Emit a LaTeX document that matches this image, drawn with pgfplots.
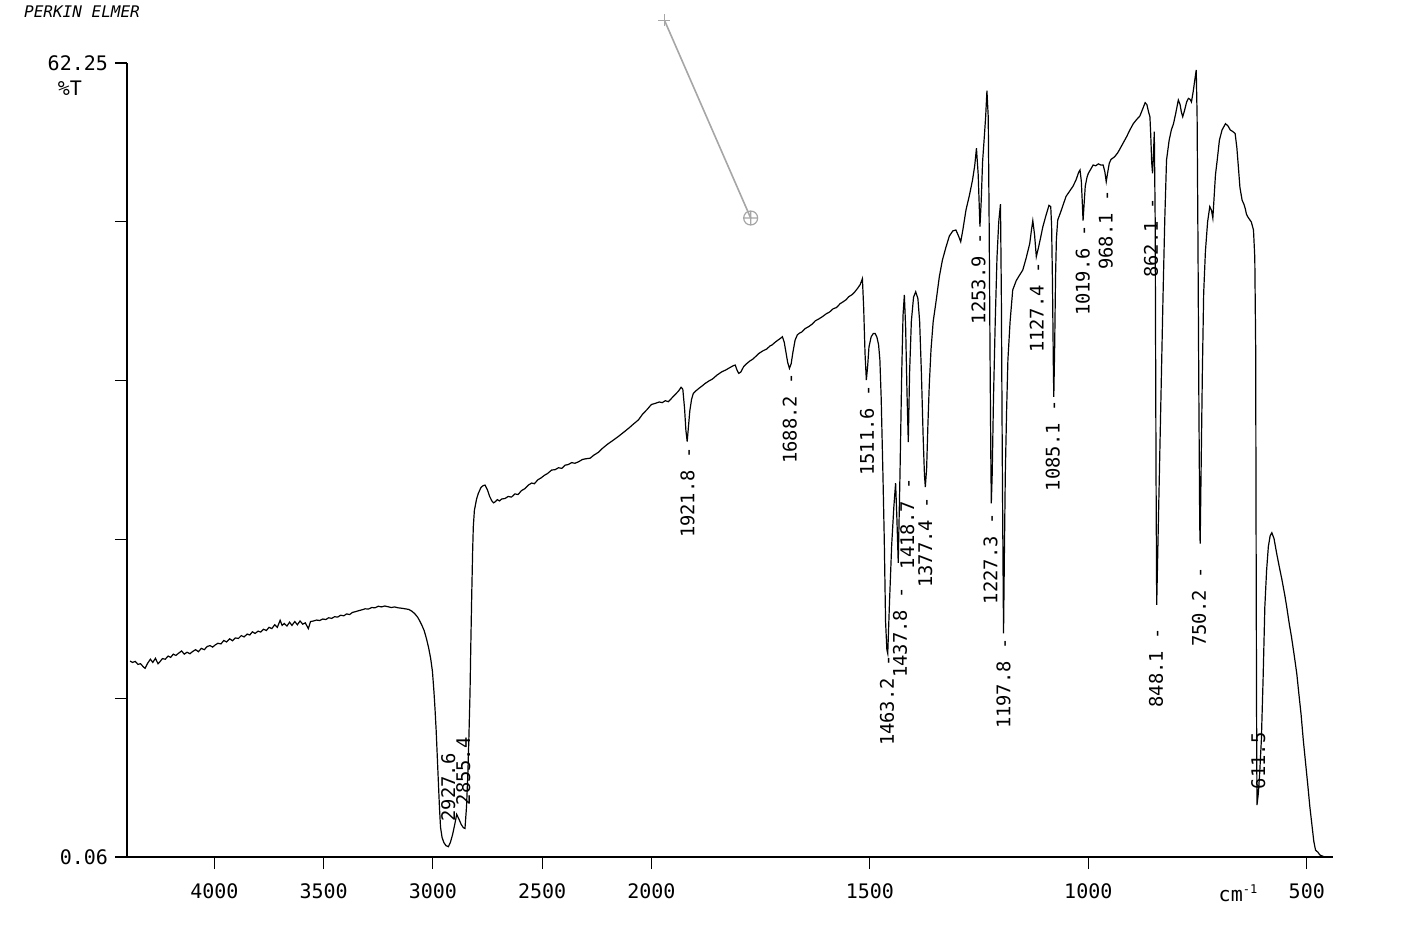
\documentclass[border=0pt]{standalone}
\usepackage{fontspec}
\setmainfont{DejaVu Sans Mono}
\usepackage{pgfplots}
\pgfplotsset{compat=1.18}
\pgfplotstableread{
wn T
4386 15.41
4375 15.30
4362 15.38
4350 15.15
4338 15.20
4325 14.95
4317 14.84
4305 15.25
4293 15.55
4282 15.30
4270 15.62
4258 15.20
4249 15.36
4238 15.60
4225 15.55
4212 15.80
4200 15.70
4188 15.95
4176 15.85
4165 16.01
4150 16.20
4138 15.95
4125 16.10
4112 15.98
4100 16.15
4086 16.30
4073 16.14
4060 16.40
4046 16.30
4033 16.55
4020 16.62
4008 16.50
3997 16.66
3984 16.80
3970 16.75
3957 17.02
3944 16.90
3930 17.15
3917 17.00
3904 17.22
3890 17.18
3877 17.40
3864 17.30
3850 17.52
3838 17.45
3826 17.70
3814 17.57
3800 17.75
3788 17.68
3775 17.90
3762 17.80
3750 18.05
3737 17.95
3724 18.25
3712 18.05
3699 18.60
3690 18.20
3680 18.35
3668 18.15
3656 18.45
3645 18.20
3632 18.50
3620 18.25
3608 18.55
3596 18.30
3584 18.40
3570 17.95
3560 18.50
3546 18.55
3532 18.62
3518 18.58
3504 18.70
3490 18.66
3477 18.80
3463 18.75
3450 18.88
3436 18.85
3422 19.00
3408 18.95
3395 19.10
3381 19.05
3368 19.22
3356 19.27
3340 19.35
3325 19.42
3310 19.50
3295 19.48
3280 19.60
3265 19.58
3250 19.70
3235 19.65
3220 19.72
3205 19.66
3190 19.60
3175 19.65
3160 19.58
3145 19.55
3127 19.50
3110 19.45
3095 19.30
3082 19.10
3070 18.85
3060 18.55
3050 18.20
3040 17.80
3030 17.20
3020 16.50
3010 15.60
3002 14.60
2995 13.00
2990 11.60
2985 10.00
2980 8.00
2975 6.00
2970 4.00
2965 2.40
2958 1.60
2950 1.20
2940 0.95
2929 0.87
2920 1.20
2910 1.80
2900 2.60
2891 3.40
2880 3.00
2870 2.60
2860 2.35
2853 2.30
2846 4.00
2840 6.50
2835 9.50
2830 12.90
2826 17.00
2822 20.70
2818 24.00
2815 25.90
2810 27.20
2800 28.10
2792 28.54
2780 29.00
2770 29.15
2761 29.19
2750 28.80
2740 28.30
2730 27.95
2722 27.80
2715 27.88
2705 28.05
2695 27.95
2685 28.10
2670 28.14
2655 28.30
2640 28.25
2625 28.50
2610 28.45
2595 28.75
2580 28.90
2563 29.19
2548 29.35
2535 29.30
2520 29.60
2505 29.75
2490 29.95
2475 30.10
2456 30.37
2440 30.40
2425 30.55
2410 30.50
2395 30.75
2380 30.80
2365 30.95
2350 30.90
2334 31.01
2315 31.20
2300 31.25
2280 31.30
2262 31.55
2243 31.75
2225 32.05
2200 32.40
2175 32.70
2151 33.00
2125 33.35
2100 33.70
2080 34.00
2059 34.30
2040 34.75
2020 35.10
2000 35.50
1991 35.59
1982 35.70
1975 35.65
1968 35.80
1961 35.72
1952 36.05
1945 36.30
1938 36.55
1932 36.85
1928 36.70
1924 35.20
1921 33.50
1918 32.60
1915 33.80
1912 35.00
1908 35.90
1904 36.37
1897 36.60
1890 36.80
1884 36.95
1877 37.15
1868 37.35
1860 37.50
1850 37.80
1839 38.06
1830 38.20
1820 38.40
1812 38.55
1808 38.59
1804 38.20
1800 37.94
1795 38.05
1789 38.46
1782 38.70
1775 38.90
1768 39.05
1762 39.24
1754 39.50
1745 39.70
1736 39.85
1728 40.10
1724 40.16
1716 40.40
1710 40.55
1704 40.70
1700 40.81
1696 40.40
1692 39.60
1688 38.80
1684 38.33
1680 38.70
1676 39.60
1671 40.55
1666 40.95
1662 41.07
1655 41.20
1648 41.45
1640 41.60
1632 41.80
1625 42.05
1617 42.20
1609 42.37
1600 42.60
1592 42.75
1584 43.00
1576 43.10
1568 43.40
1561 43.55
1555 43.69
1548 43.95
1541 44.10
1535 44.30
1528 44.60
1522 44.90
1517 45.36
1514 43.00
1511 39.50
1508 37.42
1505 38.50
1502 40.00
1497 40.80
1492 41.07
1488 41.07
1484 40.80
1480 40.20
1477 39.00
1474 36.00
1470 30.00
1467 25.00
1464 18.50
1461 16.30
1459 16.00
1455 20.00
1450 24.50
1445 27.50
1441 29.35
1438 26.50
1435 23.10
1431 30.00
1427 38.00
1424 42.50
1421 44.08
1418 41.50
1415 36.50
1412 32.56
1409 38.00
1405 42.00
1400 43.90
1395 44.33
1390 43.80
1386 42.00
1382 38.00
1378 33.00
1375 30.00
1373 29.04
1370 30.50
1367 34.00
1364 37.00
1360 39.80
1355 42.00
1348 43.69
1341 45.50
1334 46.80
1326 47.80
1318 48.70
1310 49.10
1303 49.17
1297 48.70
1292 48.25
1287 49.20
1280 50.73
1272 51.90
1265 53.08
1260 54.20
1256 55.57
1252 53.50
1248 49.43
1245 51.50
1242 54.50
1238 56.47
1235 58.00
1232 60.08
1229 58.00
1227 50.00
1225 40.00
1223 31.00
1222 27.76
1220 30.00
1217 36.00
1213 42.00
1209 47.00
1205 49.80
1201 51.20
1199 44.00
1197 32.00
1195 22.00
1194 17.58
1192 24.00
1190 30.00
1187 35.00
1184 39.00
1179 42.00
1173 44.47
1165 45.20
1158 45.60
1150 46.03
1142 47.00
1134 48.12
1130 49.20
1127 49.90
1123 48.80
1119 47.08
1114 47.80
1109 48.60
1104 49.43
1097 50.30
1090 51.10
1086 51.00
1084 49.50
1082 45.00
1080 38.50
1079 36.10
1077 40.00
1075 45.50
1073 48.50
1070 49.95
1063 50.60
1056 51.30
1051 51.80
1043 52.20
1035 52.60
1028 53.10
1022 53.70
1019 53.87
1016 53.00
1014 51.50
1012 49.90
1010 51.00
1007 52.60
1003 53.30
1000 53.60
995 53.90
989 54.26
983 54.20
977 54.35
971 54.25
966 54.26
962 53.70
959 52.95
956 53.60
952 54.40
948 54.70
940 54.90
933 55.20
928 55.50
920 56.00
912 56.50
905 57.00
897 57.50
890 57.80
882 58.10
875 58.70
870 59.14
866 59.00
862 58.40
859 58.04
857 56.50
855 54.50
853 53.60
851 55.00
849 56.87
847 50.00
845 30.00
843.5 19.80
841 24.00
838 29.00
835 34.00
832 39.00
829 44.00
825 50.00
821 54.65
815 56.20
810 57.00
805 57.50
800 58.30
794 59.35
790 59.00
787 58.40
784 58.04
780 58.50
775 59.20
771 59.48
767 59.40
764 59.20
760 60.00
756 61.00
753 61.70
751 58.00
749 48.00
747 36.00
745 26.00
744 24.60
742 30.00
739 38.00
736 44.20
732 47.50
727 49.80
722 51.00
718 50.70
715 50.10
712 51.80
709 53.50
705 54.65
700 56.20
694 57.00
686 57.50
680 57.30
675 57.00
670 56.90
664 56.73
660 55.60
657 54.30
653 52.50
648 51.50
644 51.20
641 50.87
638 50.40
635 50.20
631 50.00
627 49.80
622 49.17
619 47.00
617 40.00
616 25.00
615 12.00
614 4.13
611 5.00
608 6.50
604 9.20
600 14.00
596 19.66
592 22.50
588 24.36
584 25.20
580 25.46
575 25.00
569 23.85
563 22.80
557 21.80
550 20.50
546 19.66
540 18.30
535 17.30
529 15.90
523 14.45
518 12.80
513 11.20
508 9.22
503 7.50
498 5.80
493 4.00
488 2.50
484 1.30
480 0.60
475 0.45
470 0.22
462 0.10
456 0.06
}\spectrum
\newcommand{\pk}[3]{\node[rotate=90, anchor=east, inner sep=0pt, font=\fontsize{9.4}{11}\selectfont] at (axis cs:#1,#2) {#3};}
\begin{document}
\begin{tikzpicture}
\path[use as bounding box] (-63.5pt,-46.5pt) rectangle (640.5pt,428.5pt);
\begin{axis}[
  at={(0pt,0pt)}, anchor=south west,
  scale only axis, width=603pt, height=397pt,
  x coord trafo/.code={\pgfmathparse{#1>2000 ? -1000-#1/2 : -#1}},
  x coord inv trafo/.code={\pgfmathparse{#1<-2000 ? -2*#1-2000 : -#1}},
  xmin=4400, xmax=440,
  ymin=0.06, ymax=62.25,
  axis x line=bottom, axis y line=left,
  axis line style={-, line width=0.7pt},
  tick align=outside, major tick length=6pt,
  tick style={line width=0.6pt, black},
  xtick={4000,3500,3000,2500,2000,1500,1000,500},
  xticklabels={4000,3500,3000,2500,2000,1500,1000,500},
  ytick={0.06,12.498,24.936,37.374,49.812,62.25},
  yticklabels={0.06,,,,,62.25},
  ticklabel style={font=\fontsize{10}{12}\selectfont},
  xticklabel style={yshift=-4pt},
  clip=false,
]
\addplot[black, line width=0.6pt, mark=none] table[x=wn, y=T] {\spectrum};
\addplot[gray!70, line width=0.8pt, mark=none] coordinates {(1970.2,65.61) (1772.7,50.11)};
\addplot[gray!70, only marks, mark=+, mark size=3pt, line width=0.6pt] coordinates {(1970.2,65.61)};
\addplot[gray!70, only marks, mark=oplus, mark size=3.5pt, line width=0.6pt] coordinates {(1772.7,50.11)};
\pk{2929}{8.2}{2927.6}
\pk{2860.5}{9.46}{2855.4}
\pk{1917.3}{32.17}{1921.8 -}
\pk{1683.2}{37.97}{1688.2 -}
\pk{1506.4}{37.03}{1511.6 -}
\pk{1460.4}{15.88}{1463.2 -}
\pk{1431}{21.21}{1437.8 -}
\pk{1414.5}{29.74}{1418.7 -}
\pk{1373.2}{28.26}{1377.4 -}
\pk{1251.5}{48.93}{1253.9 -}
\pk{1224}{27.0}{1227.3 -}
\pk{1194}{17.21}{1197.8 -}
\pk{1118.3}{46.66}{1127.4 -}
\pk{1081.6}{35.85}{1085.1 -}
\pk{1012.7}{49.56}{1019.6 -}
\pk{960}{52.3}{968.1 -}
\pk{856.6}{51.67}{862.1 -}
\pk{845}{18.0}{848.1 -}
\pk{746.4}{22.77}{750.2 -}
\pk{611}{9.85}{611.5}
\end{axis}
\node[font=\fontsize{8}{10}\selectfont\itshape] at (-22.5pt,422.5pt) {PERKIN ELMER};
\node[font=\fontsize{10}{12}\selectfont] at (-28.5pt,384.5pt) {\%T};
\node[font=\fontsize{10}{12}\selectfont] at (555.5pt,-18pt) {cm\raisebox{0.7ex}{\fontsize{6}{7}\selectfont -1}};
\end{tikzpicture}
\end{document}
